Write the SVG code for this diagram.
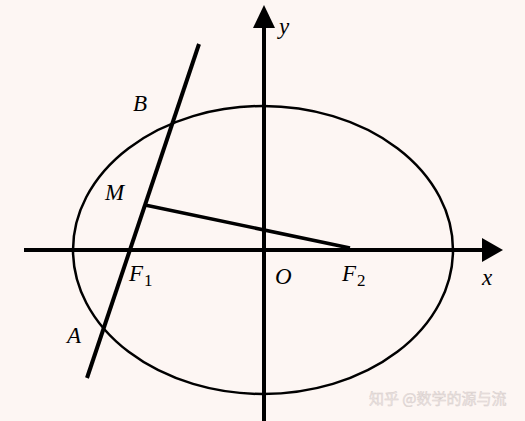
<svg xmlns="http://www.w3.org/2000/svg" width="525" height="421" viewBox="0 0 525 421">
<style>
.lbl{font-family:'Liberation Serif','DejaVu Serif',serif;font-style:italic;font-size:23px;fill:#000}
.sub{font-family:'Liberation Serif','DejaVu Serif',serif;font-style:normal;font-size:17px;fill:#000}
.wm{font-family:'Noto Sans CJK SC',sans-serif;font-size:15px;fill:#ece3e1;stroke:#d6cdcb;stroke-width:0.4}
</style>
<rect width="525" height="421" fill="#fdf6f3"/>
<g id="ellipse"><ellipse cx="263" cy="250" rx="190" ry="144" fill="none" stroke="#000" stroke-width="2.5"/></g>
<g id="connectors" stroke="#000" fill="none">
<line x1="24" y1="250" x2="484" y2="250" stroke-width="4"/>
<polygon points="482,238 503,250 482,262" fill="#000" stroke="none"/>
<line x1="264" y1="421" x2="264" y2="26" stroke-width="4"/>
<polygon points="253,28 264,5 275,28" fill="#000" stroke="none"/>
<line x1="87" y1="378" x2="199" y2="44" stroke-width="4"/>
<line x1="145" y1="205" x2="350" y2="248" stroke-width="3.5"/>
</g>
<g id="labels">
<text class="lbl" x="133" y="111">B</text>
<text class="lbl" x="105" y="200">M</text>
<text class="lbl" x="129" y="281">F<tspan class="sub" dx="1" dy="5">1</tspan></text>
<text class="lbl" x="275" y="284">O</text>
<text class="lbl" x="342" y="281">F<tspan class="sub" dx="1" dy="5">2</tspan></text>
<text class="lbl" x="482" y="285">x</text>
<text class="lbl" x="279" y="34">y</text>
<text class="lbl" x="67" y="343">A</text>
</g>
<text class="wm" x="369" y="404">知乎 @数学的源与流</text>
</svg>
